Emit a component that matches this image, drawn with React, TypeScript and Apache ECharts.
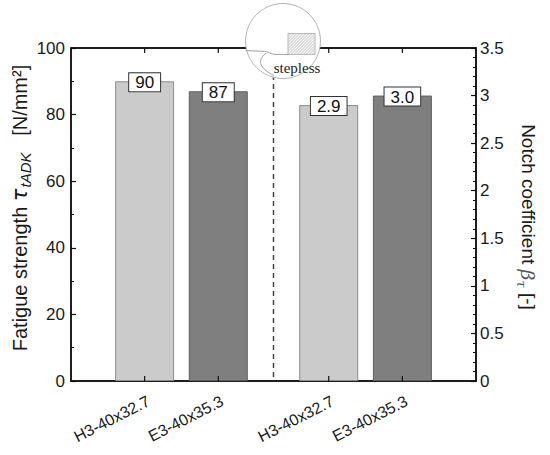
import React, { useEffect, useRef } from "react";
import * as echarts from "echarts";

const categories = ["H3-40x32.7", "E3-40x35.3", "H3-40x32.7", "E3-40x35.3"];
// slot index of each bar on a half-unit category grid (0 .. 11)
const barSlots = [2, 4, 7, 9];
const slotCount = 12;
const strengthValues = [90, 87];
const notchValues = [2.9, 3.0];
const barColors = ["#cbcbcb", "#7f7f7f"];
const barBorders = ["#8c8c8c", "#5e5e5e"];
const dividerSlots = [5, 6];

const FONT = "Liberation Sans, Arial, sans-serif";

function hatchLines(x0: number, y0: number, x1: number, y1: number, step: number) {
  const out: any[] = [];
  for (let c = x0 + y0 + step; c < x1 + y1; c += step) {
    const xa = Math.max(x0, c - y1);
    const xb = Math.min(x1, c - y0);
    if (xb <= xa) continue;
    out.push({
      type: "line",
      z: 102,
      shape: { x1: xa, y1: c - xa, x2: xb, y2: c - xb },
      style: { stroke: "#b8b8b8", lineWidth: 0.8 },
    });
  }
  return out;
}

export default function App() {
  const ref = useRef<HTMLDivElement>(null);
  useEffect(() => {
    if (!ref.current) return;
    const chart = echarts.init(ref.current, undefined, { renderer: "svg" });
    const slotNames: string[] = [];
    for (let k = 0; k < slotCount; k++) slotNames.push("slot" + k);
    const labelBox = {
      show: true,
      position: "top",
      distance: -10,
      backgroundColor: "#ffffff",
      borderColor: "#333333",
      borderWidth: 1,
      padding: [1, 6, 0, 6],
      fontSize: 17,
      fontFamily: FONT,
      color: "#111",
    };
    const leftData: any[] = slotNames.map(() => null);
    strengthValues.forEach((v, i) => {
      leftData[barSlots[i]] = {
        value: v,
        itemStyle: { color: barColors[i], borderColor: barBorders[i], borderWidth: 1 },
      };
    });
    const rightData: any[] = slotNames.map(() => null);
    notchValues.forEach((v, i) => {
      rightData[barSlots[i + 2]] = {
        value: v,
        itemStyle: { color: barColors[i], borderColor: barBorders[i], borderWidth: 1 },
      };
    });
    const cx = 283, cy = 41, r = 37.5;
    const decorations: any[] = [
      {
        type: "text",
        z: 50,
        x: 20,
        y: 208,
        rotation: Math.PI / 2,
        style: {
          text: "{a|Fatigue strength }{g|τ}{s|tADK}{a|   [N/mm²]}",
          align: "center",
          verticalAlign: "middle",
          fill: "#1a1a1a",
          rich: {
            a: { fontSize: 20, fontFamily: FONT, fill: "#1a1a1a" },
            g: { fontSize: 21, fontStyle: "italic", fontFamily: "DejaVu Sans, sans-serif", fill: "#1a1a1a" },
            s: { fontSize: 15, fontStyle: "italic", fontFamily: FONT, fill: "#1a1a1a", padding: [10, 0, 0, 1] },
          },
        },
      },
      {
        type: "text",
        z: 50,
        x: 528,
        y: 217,
        rotation: -Math.PI / 2,
        style: {
          text: "{a|Notch coefficient }{g|β}{s|τ}{a| [-]}",
          align: "center",
          verticalAlign: "middle",
          fill: "#1a1a1a",
          rich: {
            a: { fontSize: 19, fontFamily: FONT, fill: "#1a1a1a" },
            g: { fontSize: 19, fontStyle: "italic", fontFamily: "DejaVu Serif, serif", fill: "#555" },
            s: { fontSize: 13, fontStyle: "italic", fontFamily: "DejaVu Serif, serif", fill: "#555", padding: [14, 0, 0, 0] },
          },
        },
      },
      {
        type: "circle",
        z: 100,
        shape: { cx, cy, r },
        style: { fill: "#ffffff", stroke: "#b4b4b4", lineWidth: 1 },
      },
      {
        type: "rect",
        z: 101,
        shape: { x: 288, y: 33.5, width: 27, height: 21 },
        style: { fill: "#f6f6f6", stroke: "#a8a8a8", lineWidth: 0.8 },
      },
      ...hatchLines(288, 33.5, 315, 54.5, 3),
      {
        type: "polyline",
        z: 103,
        shape: { points: [[245.6, 50.6], [262, 51.2]] },
        style: { stroke: "#a0a0a0", lineWidth: 1, fill: "none" },
      },
      {
        type: "bezierCurve",
        z: 103,
        shape: { x1: 262, y1: 51.2, x2: 276, y2: 54.4, cpx1: 270, cpy1: 51.6, cpx2: 270, cpy2: 54.4 },
        style: { stroke: "#a0a0a0", lineWidth: 1, fill: "none" },
      },
      {
        type: "line",
        z: 103,
        shape: { x1: 276, y1: 54.4, x2: 288, y2: 54.4 },
        style: { stroke: "#a0a0a0", lineWidth: 1 },
      },
      {
        type: "bezierCurve",
        z: 103,
        shape: { x1: 266, y1: 53.2, x2: 274, y2: 75.5, cpx1: 255, cpy1: 61, cpx2: 262, cpy2: 70 },
        style: { stroke: "#a0a0a0", lineWidth: 1, fill: "none" },
      },
      {
        type: "text",
        z: 104,
        x: 297,
        y: 68,
        style: {
          text: "stepless",
          align: "center",
          verticalAlign: "middle",
          fontSize: 15,
          fontFamily: "Liberation Serif, Times New Roman, serif",
          fill: "#222",
        },
      },
    ];
    const option: any = {
      animation: false,
      backgroundColor: "#ffffff",
      grid: { left: 71, right: 74, top: 48, bottom: 74, show: true, borderColor: "#111", borderWidth: 1.5, backgroundColor: "transparent" },
      xAxis: [
        {
          type: "category",
          data: slotNames,
          boundaryGap: false,
          splitLine: { show: false },
          axisLine: { show: true, onZero: false, lineStyle: { color: "#111", width: 1.5 } },
          axisTick: { show: false },
          axisLabel: { show: false },
        },
      ],
      yAxis: [
        {
          type: "value",
          min: 0,
          max: 100,
          interval: 20,
          position: "left",
          splitLine: { show: false },
          axisLine: { show: true, onZero: false, lineStyle: { color: "#111", width: 1.5 } },
          axisTick: { show: true, inside: true, length: 5, lineStyle: { color: "#111", width: 1.2 } },
          minorTick: { show: true, splitNumber: 2, length: 3, lineStyle: { color: "#111", width: 1 } },
          axisLabel: { fontSize: 17, fontFamily: FONT, color: "#1a1a1a", margin: 6 },
        },
        {
          type: "value",
          min: 0,
          max: 3.5,
          interval: 0.5,
          position: "right",
          splitLine: { show: false },
          axisLine: { show: true, onZero: false, lineStyle: { color: "#111", width: 1.5 } },
          axisTick: { show: true, inside: true, length: 5, lineStyle: { color: "#111", width: 1.2 } },
          minorTick: { show: true, splitNumber: 5, length: 3, lineStyle: { color: "#111", width: 1 } },
          axisLabel: { fontSize: 17, fontFamily: FONT, color: "#1a1a1a", margin: 4 },
        },
      ],
      series: [
        {
          type: "bar",
          name: "Fatigue strength",
          xAxisIndex: 0,
          yAxisIndex: 0,
          barWidth: 59,
          data: leftData,
          label: { ...labelBox, formatter: (p: any) => String(p.value) },
        },
        {
          type: "bar",
          name: "Notch coefficient",
          xAxisIndex: 0,
          yAxisIndex: 1,
          barWidth: 59,
          barGap: "-100%",
          data: rightData,
          label: { ...labelBox, formatter: (p: any) => Number(p.value).toFixed(1) },
        },
      ],
      graphic: decorations,
    };
    chart.setOption(option);
    // positions from the library's scales
    const px = (slot: number) => chart.convertToPixel({ xAxisIndex: 0 }, slotNames[slot]) as number;
    const yTop = chart.convertToPixel({ yAxisIndex: 0 }, 100) as number;
    const yBottom = chart.convertToPixel({ yAxisIndex: 0 }, 0) as number;
    const xLeft = px(0);
    const xRight = px(slotCount - 1);
    const xd = (px(dividerSlots[0]) + px(dividerSlots[1])) / 2;
    const extra: any[] = [
      {
        type: "line",
        z: 10,
        shape: { x1: xd, y1: yTop, x2: xd, y2: yBottom },
        style: { stroke: "#444", lineWidth: 1.5, lineDash: [5, 4] },
      },
      {
        type: "line",
        z: 20,
        shape: { x1: xLeft, y1: yTop, x2: xRight, y2: yTop },
        style: { stroke: "#111", lineWidth: 1.5 },
      },
    ];
    barSlots.forEach((slot, i) => {
      const x = px(slot);
      extra.push({
        type: "line",
        z: 20,
        shape: { x1: x, y1: yBottom, x2: x, y2: yBottom - 5 },
        style: { stroke: "#111", lineWidth: 1.2 },
      });
      extra.push({
        type: "line",
        z: 20,
        shape: { x1: x, y1: yTop, x2: x, y2: yTop + 5 },
        style: { stroke: "#111", lineWidth: 1.2 },
      });
      extra.push({
        type: "text",
        z: 20,
        x: x + 4,
        y: yBottom + 19,
        rotation: (27 * Math.PI) / 180,
        style: {
          text: categories[i],
          align: "right",
          verticalAlign: "middle",
          fontSize: 16,
          fontFamily: FONT,
          fill: "#1a1a1a",
        },
      });
    });
    chart.setOption({ graphic: [...decorations, ...extra] });
    return () => chart.dispose();
  }, []);
  return (
    <div
      ref={ref}
      style={{ position: "absolute", left: 0, top: 0, width: 550, height: 455, background: "#fff" }}
    />
  );
}
